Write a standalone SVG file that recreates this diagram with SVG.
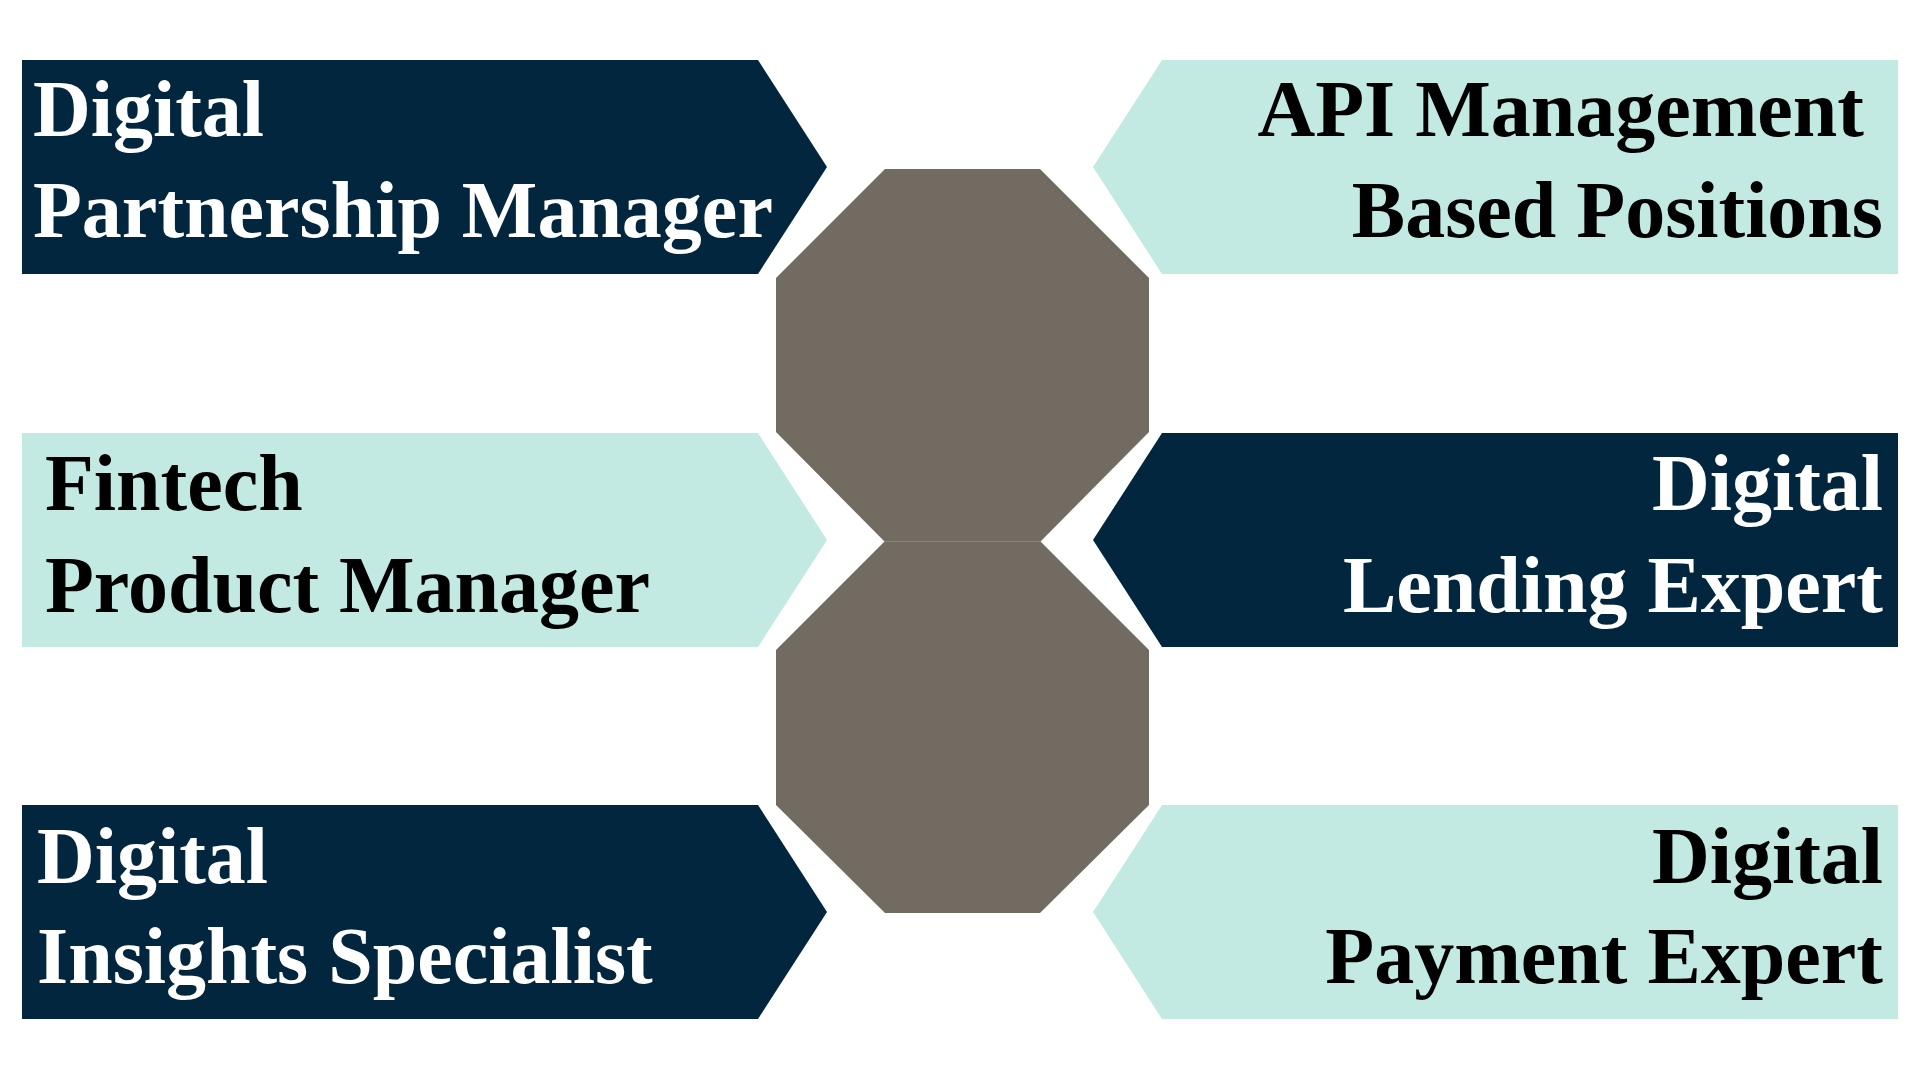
<svg xmlns="http://www.w3.org/2000/svg" width="1920" height="1080" viewBox="0 0 1920 1080">
<style>
.dark{fill:#03263f}
.light{fill:#c3eae2}
.oct{fill:#726b62}
text{font-family:"Liberation Serif","Times New Roman",serif;font-weight:bold;font-size:80px}
.wt{fill:#ffffff}
.bk{fill:#000000}
.r{text-anchor:end}
</style>
<rect width="1920" height="1080" fill="#ffffff"/>
<g id="octagons">
<polygon id="oct1" class="oct" points="885,169 1040,169 1149,278 1149,432 1040,542 885,542 776,432 776,278"/>
<polygon id="oct2" class="oct" points="885,541 1040,541 1149,650 1149,805 1040,913 885,913 776,805 776,650"/>
<line x1="885" y1="541.5" x2="1040" y2="541.5" stroke="#8a837b" stroke-width="1"/>
</g>
<g id="connectors"></g>
<g id="node-digital-partnership">
<polygon class="dark" points="22,60 758,60 827,167 758,274 22,274"/>
<text class="wt" x="33" y="136">Digital</text>
<text class="wt" x="33" y="237">Partnership Manager</text>
</g>
<g id="node-fintech-product">
<polygon class="light" points="22,433 758,433 827,540 758,647 22,647"/>
<text class="bk" x="45" y="510">Fintech</text>
<text class="bk" x="45" y="612">Product Manager</text>
</g>
<g id="node-digital-insights">
<polygon class="dark" points="22,805 758,805 827,912 758,1019 22,1019"/>
<text class="wt" x="37" y="883">Digital</text>
<text class="wt" x="37" y="983">Insights Specialist</text>
</g>
<g id="node-api-management">
<polygon class="light" points="1898,60 1162,60 1093,167 1162,274 1898,274"/>
<text class="bk r" x="1864" y="136">API Management</text>
<text class="bk r" x="1883" y="237">Based Positions</text>
</g>
<g id="node-digital-lending">
<polygon class="dark" points="1898,433 1162,433 1093,540 1162,647 1898,647"/>
<text class="wt r" x="1883" y="510">Digital</text>
<text class="wt r" x="1883" y="612">Lending Expert</text>
</g>
<g id="node-digital-payment">
<polygon class="light" points="1898,805 1162,805 1093,912 1162,1019 1898,1019"/>
<text class="bk r" x="1883" y="883">Digital</text>
<text class="bk r" x="1883" y="983">Payment Expert</text>
</g>
</svg>
